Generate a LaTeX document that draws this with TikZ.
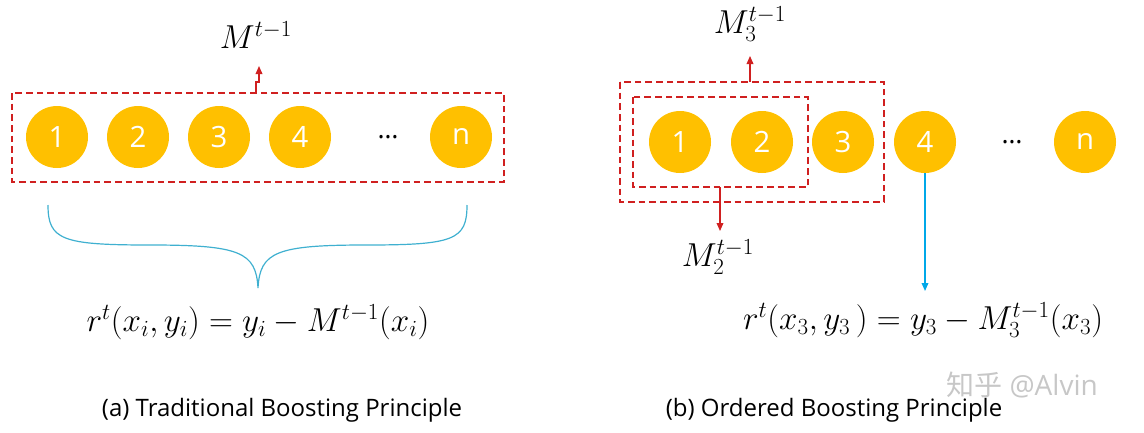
\documentclass[tikz,border=0pt]{standalone}
\usepackage{fontspec}
\setmainfont{Open Sans}
\newfontfamily\cjk{Noto Sans CJK SC}
\usetikzlibrary{arrows.meta}
\definecolor{gold}{HTML}{FFC000}
\definecolor{dred}{HTML}{D02020}
\definecolor{sky}{HTML}{00A8E8}
\definecolor{brc}{HTML}{3FB0D0}
\begin{document}
\begin{tikzpicture}[x=0.75pt,y=-0.75pt,
  ball/.style={circle,fill=gold,minimum size=46.5pt,inner sep=0pt,text=white,font=\fontsize{22}{24}\selectfont},
  dots/.style={font=\fontsize{20}{22}\selectfont},
  box/.style={draw=dred,dashed,line width=1.4pt,dash pattern=on 5pt off 3pt},
  rarr/.style={draw=dred,line width=1pt,-{Triangle[length=6pt,width=5pt]}},
  lbl/.style={font=\fontsize{25}{27}\selectfont,inner sep=1pt},
  frm/.style={font=\fontsize{27}{29}\selectfont,inner sep=1pt},
  captxt/.style={font=\fontsize{18}{20}\selectfont}]
\useasboundingbox (0,0) rectangle (1144,432);
% left
\node[ball] (a1) at (57,137) {1};
\node[ball] (a2) at (138,137) {2};
\node[ball] (a3) at (219,137) {3};
\node[ball] (a4) at (300,137) {4};
\node[dots] (ad) at (388,137) {\dots};
\node[ball] (an) at (461,137) {n};
\draw[box] (12,93) rectangle (504,182);
\coordinate (ab) at (256,93);
\node[lbl] (am) at (256,35) {$M^{t-1}$};
\draw[rarr] (ab) -- (256,82) -- (259,82) -- (259,66);
\draw[brc,line width=0.9pt] (48,205) .. controls (48,240) and (62,245) .. (150,245) .. controls (240,245) and (256,252) .. (258,288)
  .. controls (260,252) and (276,245) .. (366,245) .. controls (454,245) and (467,240) .. (467,205);
\node[frm] (af) at (258,322) {$r^t(x_i,y_i)=y_i-M^{t-1}(x_i)$};
\node[captxt] (ac) at (282,410) {(a) Traditional Boosting Principle};
% right
\node[ball] (b1) at (680,142) {1};
\node[ball] (b2) at (762,142) {2};
\node[ball] (b3) at (843,142) {3};
\node[ball] (b4) at (925,142) {4};
\node[dots] (bd) at (1012,142) {\dots};
\node[ball] (bn) at (1085,142) {n};
\draw[box] (620,82) rectangle (884,202);
\draw[box] (633,97) rectangle (808,187);
\node[lbl] (m3) at (750,24) {$M_3^{t-1}$};
\node[lbl] (m2) at (718,257) {$M_2^{t-1}$};
\coordinate (o) at (750,82);
\coordinate (i) at (720,187);
\draw[rarr] (o) -- (750,56);
\draw[rarr] (i) -- (720,231);
\node[frm] (bf) at (923,320) {$r^t(x_3,y_3\,)=y_3-M_3^{t-1}(x_3)$};
\draw[sky,line width=1pt,-{Triangle[length=6pt,width=5pt]}] (b4.south) -- (925,291);
\node[captxt] (bc) at (834,410) {(b) Ordered Boosting Principle};
\node[font=\fontsize{21}{23}\selectfont,text=black!22,inner sep=0pt] (wm) at (1022,385) {{\cjk 知乎} @Alvin};
\end{tikzpicture}
\end{document}
